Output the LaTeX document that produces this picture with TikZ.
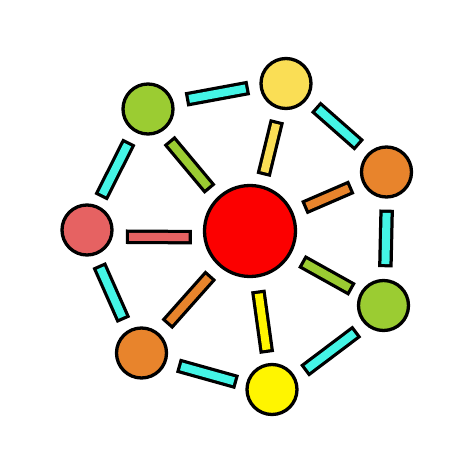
\documentclass[tikz,border=0pt]{standalone}
\definecolor{cyanA}{RGB}{68,245,230}
\definecolor{greenA}{RGB}{155,204,50}
\definecolor{yellowA}{RGB}{250,222,85}
\definecolor{orangeA}{RGB}{232,132,44}
\definecolor{pinkA}{RGB}{230,98,98}
\definecolor{redA}{RGB}{252,0,0}
\definecolor{yellowB}{RGB}{255,245,0}
\begin{document}
\begin{tikzpicture}[x=1pt,y=-1pt,
  hub/.style={circle, draw=black, line width=3.3pt, inner sep=0pt, minimum size=#1},
  hub/.default=50pt,
  bar/.style n args={3}{draw=black, line width=14.5pt, shorten <=#2pt, shorten >=#3pt,
     postaction={draw=#1, line width=8pt, shorten <=#2pt+3.25pt, shorten >=#3pt+3.25pt}}]
\useasboundingbox[fill=white] (0,0) rectangle (474,474);
% nodes
\node[hub=91pt, fill=redA] (r) at (250,231) {};
\node[hub, fill=greenA] (g1) at (148,109) {};
\node[hub, fill=yellowA] (y1) at (286,83.5) {};
\node[hub, fill=orangeA] (o1) at (386.5,172) {};
\node[hub, fill=pinkA] (p) at (87,230) {};
\node[hub, fill=orangeA] (o2) at (141.5,353) {};
\node[hub, fill=yellowB] (y2) at (272,389.5) {};
\node[hub, fill=greenA] (g2) at (383.5,305.5) {};
% bars
\draw[bar={cyanA}{12}{11.2}, transform canvas={shift={(0,-2.5)}}] (g1) -- (y1);
\draw[bar={cyanA}{10}{10}, transform canvas={shift={(-2.5,0)}}] (g1) -- (p);
\draw[bar={greenA}{11}{10.5}, transform canvas={shift={(-3,2.5)}}] (g1) -- (r);
\draw[bar={pinkA}{12.3}{11}, transform canvas={shift={(0,6.5)}}] (p) -- (r);
\draw[bar={cyanA}{10.2}{10.8}, transform canvas={shift={(-2.8,1.3)}}] (p) -- (o2);
\draw[bar={orangeA}{11.9}{11.6}] (r) -- (o2);
\draw[bar={cyanA}{10.7}{10.2}, transform canvas={shift={(0.5,2.5)}}] (o2) -- (y2);
\draw[bar={cyanA}{10.5}{10.1}, transform canvas={shift={(2.8,3.7)}}] (y2) -- (g2);
\draw[bar={yellowB}{12.9}{10.3}] (r) -- (y2);
\draw[bar={greenA}{10.9}{10.3}, transform canvas={shift={(1,2)}}] (r) -- (g2);
\draw[bar={cyanA}{11.6}{11}, transform canvas={shift={(1,0)}}] (g2) -- (o1);
\draw[bar={orangeA}{11.7}{11.3}] (r) -- (o1);
\draw[bar={yellowA}{10.2}{11.7}] (r) -- (y1);
\draw[bar={cyanA}{11.3}{11.2}, transform canvas={shift={(1.2,-1.7)}}] (y1) -- (o1);
\end{tikzpicture}
\end{document}
